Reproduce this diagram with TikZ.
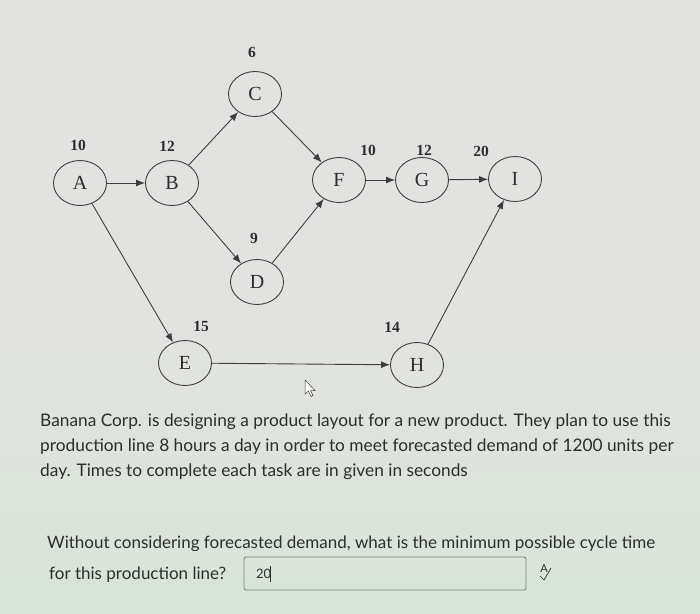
\documentclass[tikz,border=0pt]{standalone}
\usepackage{fontspec}
\setmainfont{Liberation Serif}
\newfontfamily\latofont{Lato}
\usetikzlibrary{arrows.meta,shapes.geometric}
\definecolor{bgcol}{RGB}{226,227,224}
\definecolor{bgtint}{RGB}{216,228,216}
\definecolor{linecol}{RGB}{62,62,62}
\definecolor{textcol}{RGB}{45,45,45}
\definecolor{boxcol}{RGB}{120,130,120}
\begin{document}
\begin{tikzpicture}[x=1pt,y=-1pt,
  task/.style={ellipse,draw=linecol,line width=0.9pt,minimum width=53pt,minimum height=45pt,inner sep=0pt,font=\fontsize{20}{20}\selectfont,text=textcol},
  tval/.style={font=\bfseries\fontsize{15.5}{15.5}\selectfont,text=textcol},
  link/.style={draw=linecol,line width=0.9pt,-{Latex[length=9pt,width=7pt]}},
  para/.style={font=\latofont\fontsize{17.3}{25}\selectfont,text=textcol,inner sep=0pt,anchor=base west}]
\fill[bgcol] (0,0) rectangle (700,613);
\shade[top color=bgcol,bottom color=bgtint] (0,330) rectangle (700,613);
\useasboundingbox (0,0) rectangle (700,613);
% nodes
\node[task] (A) at (80,183) {A};
\node[task] (B) at (172,183) {B};
\node[task] (C) at (255,94) {C};
\node[task] (D) at (257,282) {D};
\node[task] (E) at (185,363) {E};
\node[task] (F) at (339,180) {F};
\node[task] (G) at (422,180) {G};
\node[task] (H) at (417,365) {H};
\node[task] (I) at (515,179) {I};
% times
\node[tval] (tA) at (78,145) {10};
\node[tval] (tB) at (167,146) {12};
\node[tval] (tC) at (252,52) {6};
\node[tval] (tD) at (254,238) {9};
\node[tval] (tE) at (201,326) {15};
\node[tval] (tF) at (368,150) {10};
\node[tval] (tG) at (424,150) {12};
\node[tval] (tH) at (392,327) {14};
\node[tval] (tI) at (481,151) {20};
% connectors
\draw[link] (A) -- (B);
\draw[link] (B) -- (C);
\draw[link] (C) -- (F);
\draw[link] (B) -- (D);
\draw[link] (D) -- (F);
\draw[link] (F) -- (G);
\draw[link] (G) -- (I);
\draw[link] (A) -- (E);
\draw[link] (E) -- (H);
\draw[link] (H) -- (I);
% mouse cursor
\draw[linecol,line width=0.5pt,fill=white] (305,380) -- (305,394) -- (308.5,391) -- (311,396.5) -- (313,395.5) -- (310.5,390.5) -- (315,390.5) -- cycle;
% text
\node[para] (p1) at (40,426) {Banana Corp. is designing a product layout for a new product. They plan to use this};
\node[para] (p2) at (40,451) {production line 8 hours a day in order to meet forecasted demand of 1200 units per};
\node[para] (p3) at (40,476) {day. Times to complete each task are in given in seconds};
\node[para,font=\latofont\fontsize{17}{25}\selectfont] (q1) at (47,548) {Without considering forecasted demand, what is the minimum possible cycle time};
\node[para,font=\latofont\fontsize{17}{25}\selectfont] (q2) at (49,579) {for this production line?};
\draw[boxcol,line width=0.8pt,rounded corners=2pt] (244,557) rectangle (526,590);
\node[font=\latofont\fontsize{13}{13}\selectfont,text=textcol,anchor=west,inner sep=0pt] (ans) at (256,574) {20};
\draw[textcol,line width=0.5pt] (270,566) -- (270,582);
\node[font=\latofont\fontsize{11}{11}\selectfont,text=textcol,inner sep=0pt] (icon) at (544,569) {A};
\draw[textcol,line width=0.7pt] (540,576) -- (544,580) -- (551,568);
\end{tikzpicture}
\end{document}
